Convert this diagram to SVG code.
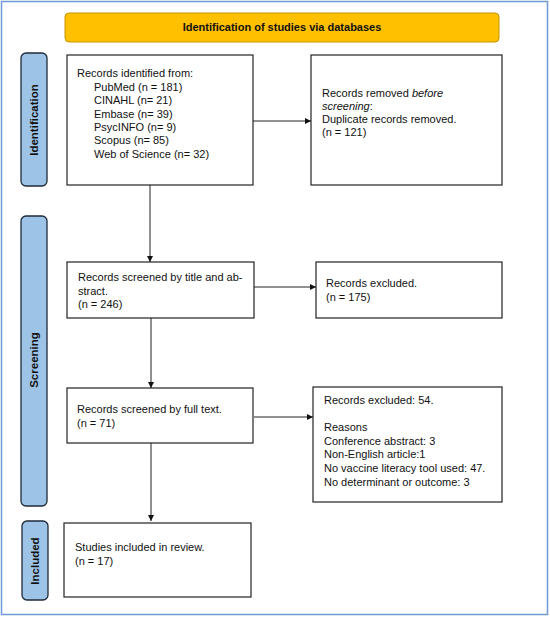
<svg xmlns="http://www.w3.org/2000/svg" width="550" height="617" viewBox="0 0 550 617">
<style>
.box{fill:#fff;stroke:#222;stroke-width:1.2}
.side{fill:#9dc3e6;stroke:#1f2a38;stroke-width:1.3}
.t{font-family:"Liberation Sans",Arial,sans-serif;font-size:11px;fill:#111}
.b{font-family:"Liberation Sans",Arial,sans-serif;font-size:11px;font-weight:bold;fill:#111}
.sl{font-family:"Liberation Sans",Arial,sans-serif;font-size:11.5px;font-weight:bold;fill:#111}
.c{stroke:#222;stroke-width:1;fill:none;marker-end:url(#ah)}
</style>
<defs>
<marker id="ah" viewBox="0 0 10 10" refX="10" refY="5" markerWidth="6" markerHeight="6" markerUnits="userSpaceOnUse" orient="auto">
<path d="M0,0 L10,5 L0,10 z" fill="#111"/>
</marker>
</defs>
<rect x="1.5" y="1.5" width="546" height="613" fill="#fff" stroke="#6f98d6" stroke-width="1.5"/>
<g id="header">
<rect x="65" y="13" width="434" height="29" rx="4" fill="#ffc000" stroke="#c79500" stroke-width="1"/>
<text class="b" x="282" y="31" text-anchor="middle">Identification of studies via databases</text>
</g>
<g id="side-identification">
<rect class="side" x="21" y="53" width="26" height="133" rx="5"/>
<text class="sl" transform="translate(38,120) rotate(-90)" text-anchor="middle">Identification</text>
</g>
<g id="side-screening">
<rect class="side" x="21" y="216" width="26" height="290" rx="5"/>
<text class="sl" transform="translate(38,360) rotate(-90)" text-anchor="middle">Screening</text>
</g>
<g id="side-included">
<rect class="side" x="22" y="521" width="26" height="79" rx="5"/>
<text class="sl" transform="translate(39,561) rotate(-90)" text-anchor="middle">Included</text>
</g>
<g id="connectors">
<line class="c" x1="253" y1="121" x2="311" y2="121"/>
<line class="c" x1="150" y1="185" x2="150" y2="262"/>
<line class="c" x1="254" y1="287" x2="316" y2="287"/>
<line class="c" x1="151" y1="318" x2="151" y2="388"/>
<line class="c" x1="254" y1="417" x2="313" y2="417"/>
<line class="c" x1="151" y1="443" x2="151" y2="521"/>
</g>
<g id="records-identified">
<rect class="box" x="67" y="55" width="186" height="130"/>
<text class="t" x="77" y="77">Records identified from:</text>
<text class="t" x="94" y="91">PubMed (n = 181)</text>
<text class="t" x="94" y="104">CINAHL (n= 21)</text>
<text class="t" x="94" y="118">Embase (n= 39)</text>
<text class="t" x="94" y="131">PsycINFO (n= 9)</text>
<text class="t" x="94" y="144">Scopus (n= 85)</text>
<text class="t" x="94" y="158">Web of Science (n= 32)</text>
</g>
<g id="records-removed">
<rect class="box" x="311" y="55" width="191" height="130"/>
<text class="t" x="322" y="97">Records removed <tspan font-style="italic">before</tspan></text>
<text class="t" x="322" y="110"><tspan font-style="italic">screening</tspan>:</text>
<text class="t" x="322" y="123">Duplicate records removed.</text>
<text class="t" x="322" y="136">(n = 121)</text>
</g>
<g id="screened-title">
<rect class="box" x="67" y="262" width="187" height="56"/>
<text class="t" x="78" y="281">Records screened by title and ab-</text>
<text class="t" x="78" y="295">stract.</text>
<text class="t" x="78" y="308">(n = 246)</text>
</g>
<g id="excluded-1">
<rect class="box" x="316" y="262" width="186" height="56"/>
<text class="t" x="326" y="287">Records excluded.</text>
<text class="t" x="326" y="301">(n = 175)</text>
</g>
<g id="screened-full">
<rect class="box" x="67" y="388" width="186" height="55"/>
<text class="t" x="77" y="413">Records screened by full text.</text>
<text class="t" x="77" y="427">(n = 71)</text>
</g>
<g id="excluded-2">
<rect class="box" x="313" y="387" width="189" height="115"/>
<text class="t" x="324" y="404">Records excluded: 54.</text>
<text class="t" x="324" y="431">Reasons</text>
<text class="t" x="324" y="445">Conference abstract: 3</text>
<text class="t" x="324" y="458">Non-English article:1</text>
<text class="t" x="324" y="472">No vaccine literacy tool used: 47.</text>
<text class="t" x="324" y="486">No determinant or outcome: 3</text>
</g>
<g id="included">
<rect class="box" x="64" y="523" width="187" height="74"/>
<text class="t" x="75" y="551">Studies included in review.</text>
<text class="t" x="75" y="565">(n = 17)</text>
</g>
</svg>
